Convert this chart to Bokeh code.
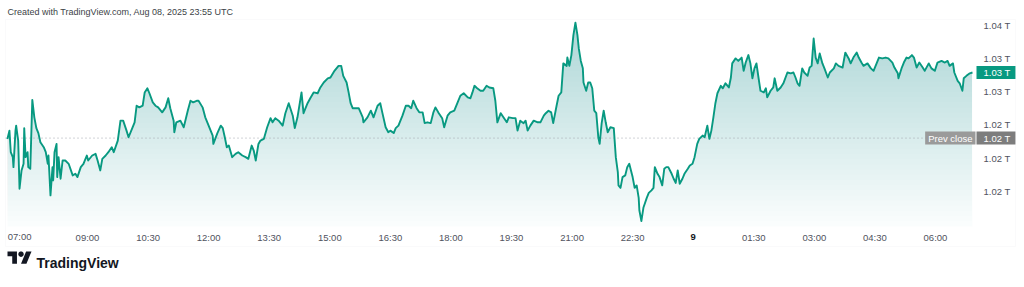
import numpy as np
from bokeh.plotting import figure
from bokeh.models import (Range1d, FixedTicker, PrintfTickFormatter, Label,
                          PolyAnnotation, BoxAnnotation, LinearAxis)
from bokeh.embed import file_html
from bokeh.resources import INLINE

# ---------------- data ----------------
# minutes elapsed since 07:00 (Aug 8) and market value in trillions
minutes = [1, 4, 6, 9, 10, 13, 14, 17, 19, 22, 25, 26, 28, 31, 32, 35, 38, 41, 44, 47,
           50, 55, 58, 61, 62, 65, 68, 69, 71, 74, 75, 77, 80, 83, 87, 92, 98, 102, 105, 110,
           114, 119, 121, 127, 132, 135, 139, 142, 147, 151, 156, 159, 165, 169, 173, 178, 181, 187, 190, 193,
           197, 202, 205, 209, 212, 217, 221, 225, 231, 236, 240, 243, 248, 249, 252, 258, 263, 269, 273, 277,
           283, 285, 291, 295, 300, 306, 307, 313, 318, 321, 324, 327, 330, 335, 340, 344, 350, 355, 359, 364,
           367, 370, 374, 377, 382, 387, 392, 395, 399, 404, 410, 414, 419, 425, 428, 432, 438, 441, 447, 451,
           456, 462, 466, 471, 477, 481, 487, 493, 497, 500, 505, 508, 511, 514, 517, 523, 529, 530, 536, 541,
           545, 551, 555, 558, 563, 567, 570, 575, 578, 582, 588, 593, 597, 601, 604, 609, 613, 618, 621, 625,
           630, 634, 637, 642, 647, 650, 655, 659, 665, 670, 674, 679, 685, 689, 692, 695, 699, 704, 708, 713,
           717, 723, 726, 729, 734, 738, 743, 746, 752, 756, 759, 763, 768, 771, 774, 778, 783, 789, 793, 798,
           801, 805, 809, 812, 817, 820, 824, 827, 832, 833, 836, 839, 842, 845, 848, 850, 853, 856, 857, 861,
           864, 867, 870, 873, 876, 879, 881, 884, 887, 890, 893, 897, 902, 905, 908, 909, 912, 915, 919, 922,
           925, 930, 933, 936, 939, 940, 943, 946, 951, 954, 958, 961, 963, 967, 970, 974, 977, 980, 983, 988,
           991, 994, 997, 1000, 1004, 1007, 1012, 1015, 1019, 1022, 1026, 1029, 1034, 1037, 1041, 1044, 1047, 1050, 1053, 1056,
           1061, 1064, 1068, 1073, 1076, 1078, 1083, 1087, 1092, 1095, 1098, 1102, 1105, 1108, 1111, 1114, 1117, 1120, 1125, 1128,
           1130, 1135, 1139, 1141, 1145, 1150, 1154, 1160, 1165, 1169, 1172, 1175, 1178, 1182, 1185, 1190, 1193, 1196, 1199, 1202,
           1205, 1208, 1212, 1215, 1220, 1223, 1229, 1232, 1236, 1242, 1246, 1251, 1254, 1258, 1263, 1266, 1270, 1273, 1279, 1284,
           1288, 1293, 1296, 1301, 1306, 1310, 1316, 1319, 1324, 1325, 1330, 1333, 1337, 1340, 1345, 1348, 1352, 1356, 1361, 1364,
           1370, 1374, 1379, 1383, 1389, 1394, 1398, 1401, 1406, 1408, 1413, 1416, 1420, 1422, 1426, 1431, 1435]

values = [1.0223, 1.0233, 1.0207, 1.0201, 1.0189, 1.0233, 1.0239, 1.0221, 1.0163, 1.0185, 1.0193, 1.0236, 1.0201, 1.0207, 1.0189, 1.0187, 1.0270, 1.0249, 1.0236, 1.0230,
          1.0219, 1.0213, 1.0207, 1.0193, 1.0203, 1.0155, 1.0189, 1.0173, 1.0207, 1.0217, 1.0177, 1.0201, 1.0175, 1.0197, 1.0197, 1.0193, 1.0179, 1.0181, 1.0177, 1.0189,
          1.0193, 1.0203, 1.0197, 1.0203, 1.0205, 1.0197, 1.0185, 1.0199, 1.0203, 1.0207, 1.0213, 1.0207, 1.0221, 1.0245, 1.0245, 1.0233, 1.0225, 1.0237, 1.0243, 1.0263,
          1.0261, 1.0263, 1.0279, 1.0284, 1.0278, 1.0267, 1.0263, 1.0261, 1.0255, 1.0261, 1.0272, 1.0260, 1.0245, 1.0231, 1.0243, 1.0245, 1.0237, 1.0257, 1.0269, 1.0267,
          1.0269, 1.0269, 1.0261, 1.0249, 1.0239, 1.0227, 1.0217, 1.0230, 1.0239, 1.0236, 1.0225, 1.0213, 1.0215, 1.0201, 1.0205, 1.0207, 1.0203, 1.0201, 1.0199, 1.0215,
          1.0209, 1.0197, 1.0217, 1.0221, 1.0223, 1.0237, 1.0248, 1.0243, 1.0248, 1.0245, 1.0239, 1.0254, 1.0266, 1.0251, 1.0236, 1.0249, 1.0279, 1.0254, 1.0266, 1.0272,
          1.0279, 1.0278, 1.0285, 1.0291, 1.0296, 1.0297, 1.0305, 1.0311, 1.0311, 1.0299, 1.0291, 1.0279, 1.0266, 1.0260, 1.0260, 1.0260, 1.0249, 1.0243, 1.0249, 1.0257,
          1.0249, 1.0263, 1.0266, 1.0255, 1.0237, 1.0231, 1.0233, 1.0230, 1.0236, 1.0239, 1.0251, 1.0263, 1.0263, 1.0260, 1.0269, 1.0260, 1.0255, 1.0255, 1.0242, 1.0243,
          1.0242, 1.0255, 1.0261, 1.0254, 1.0248, 1.0237, 1.0251, 1.0255, 1.0257, 1.0267, 1.0275, 1.0278, 1.0273, 1.0272, 1.0279, 1.0287, 1.0284, 1.0281, 1.0281, 1.0287,
          1.0285, 1.0284, 1.0269, 1.0243, 1.0254, 1.0249, 1.0243, 1.0249, 1.0248, 1.0248, 1.0233, 1.0245, 1.0242, 1.0245, 1.0233, 1.0239, 1.0245, 1.0243, 1.0243, 1.0251,
          1.0254, 1.0257, 1.0255, 1.0242, 1.0263, 1.0275, 1.0279, 1.0314, 1.0311, 1.0321, 1.0311, 1.0324, 1.0348, 1.0363, 1.0348, 1.0332, 1.0317, 1.0308, 1.0291, 1.0281,
          1.0291, 1.0291, 1.0284, 1.0257, 1.0254, 1.0225, 1.0217, 1.0242, 1.0257, 1.0243, 1.0231, 1.0237, 1.0236, 1.0201, 1.0183, 1.0167, 1.0164, 1.0177, 1.0179, 1.0189,
          1.0193, 1.0177, 1.0164, 1.0167, 1.0152, 1.0137, 1.0124, 1.0140, 1.0152, 1.0158, 1.0161, 1.0164, 1.0189, 1.0181, 1.0177, 1.0167, 1.0187, 1.0189, 1.0189, 1.0181,
          1.0175, 1.0170, 1.0185, 1.0169, 1.0175, 1.0181, 1.0187, 1.0191, 1.0193, 1.0201, 1.0217, 1.0223, 1.0227, 1.0225, 1.0239, 1.0223, 1.0233, 1.0249, 1.0266, 1.0278,
          1.0287, 1.0284, 1.0290, 1.0285, 1.0297, 1.0314, 1.0320, 1.0317, 1.0321, 1.0305, 1.0315, 1.0324, 1.0314, 1.0296, 1.0308, 1.0314, 1.0297, 1.0281, 1.0279, 1.0284,
          1.0273, 1.0281, 1.0285, 1.0296, 1.0281, 1.0285, 1.0290, 1.0303, 1.0302, 1.0303, 1.0297, 1.0290, 1.0287, 1.0308, 1.0303, 1.0299, 1.0309, 1.0311, 1.0344, 1.0321,
          1.0314, 1.0326, 1.0314, 1.0308, 1.0297, 1.0303, 1.0308, 1.0314, 1.0311, 1.0309, 1.0327, 1.0320, 1.0314, 1.0321, 1.0327, 1.0321, 1.0315, 1.0311, 1.0314, 1.0308,
          1.0305, 1.0315, 1.0321, 1.0320, 1.0321, 1.0320, 1.0315, 1.0309, 1.0302, 1.0296, 1.0309, 1.0315, 1.0321, 1.0320, 1.0324, 1.0321, 1.0309, 1.0315, 1.0309, 1.0305,
          1.0314, 1.0308, 1.0305, 1.0315, 1.0317, 1.0315, 1.0317, 1.0311, 1.0314, 1.0303, 1.0293, 1.0290, 1.0281, 1.0296, 1.0299, 1.0302, 1.0303]

prev_close = 1.0224
last_price_text = "1.03 T"
prev_close_text = "1.02 T"

y_ticks = [1.016, 1.020, 1.024, 1.028, 1.032, 1.036]
x_tick_minutes = [0, 120, 210, 300, 390, 480, 570, 660, 750, 840, 930, 1020, 1110, 1200, 1290, 1380]
x_tick_labels = ["07:00", "09:00", "10:30", "12:00", "13:30", "15:00", "16:30", "18:00",
                 "19:30", "21:00", "22:30", "9", "01:30", "03:00", "04:30", "06:00"]

header_text = "Created with TradingView.com, Aug 08, 2025 23:55 UTC"
brand_text = "TradingView"

# ---------------- figure ----------------
GREEN = "#089981"
FONT = "Liberation Sans"
AXIS_TXT = "#50535e"

# the plotting frame covers the whole canvas; the price pane is a sub-box of it
x_view = (-9.27, 1512.28)          # minutes shown across the 1024 px canvas
y_view = (1.004398, 1.038976)      # values shown across the 287 px canvas
pane_x = (-1.84, 1439.5)           # price pane (left/right edges)
pane_y = (1.011747, 1.036687)      # price pane (bottom/top edges)

p = figure(width=1024, height=287, output_backend="svg", toolbar_location=None,
           x_range=Range1d(*x_view), y_range=Range1d(*y_view),
           x_axis_location=None, y_axis_location=None,
           min_border_left=0, min_border_right=0, min_border_top=0, min_border_bottom=0)
p.outline_line_color = None
p.background_fill_color = "white"
p.border_fill_color = "white"
p.xgrid.visible = False
p.ygrid.visible = False

# gradient fill under the line, built from stacked translucent layers
vals = np.array(values)
n_layers = 40
edges = np.linspace(pane_y[0], pane_y[1], n_layers + 1)
a_bot, a_top = 0.015, 0.30
prev_A = 0.0
for i in range(n_layers):
    t = edges[i]
    if t >= vals.max():
        break
    mid = 0.5 * (edges[i] + edges[i + 1])
    A = a_bot + (a_top - a_bot) * (mid - pane_y[0]) / (pane_y[1] - pane_y[0])
    a = 1 - (1 - A) / (1 - prev_A)
    prev_A = A
    p.varea(x=minutes, y1=np.full(len(vals), t), y2=np.maximum(vals, t),
            fill_color=GREEN, fill_alpha=float(a))

# previous close dotted line across the pane
p.segment(x0=[pane_x[0]], y0=[prev_close], x1=[pane_x[1]], y1=[prev_close],
          line_color="#a3a6af", line_width=1, line_dash="1 3")

p.line(minutes, values, line_color=GREEN, line_width=1.9, line_join="round")

# axes fixed to the pane edges
yax = LinearAxis(fixed_location=pane_x[1])
yax.ticker = FixedTicker(ticks=y_ticks)
yax.formatter = PrintfTickFormatter(format="%.2f T")
yax.axis_line_color = None
yax.major_tick_line_color = None
yax.minor_tick_line_color = None
yax.major_tick_out = 0
yax.major_tick_in = 0
yax.major_label_standoff = 8
yax.major_label_text_font_size = "9.5px"
yax.major_label_text_color = AXIS_TXT
yax.major_label_text_font = FONT
p.add_layout(yax, "right")

special = {"07:00", "9"}
xax = LinearAxis(fixed_location=pane_y[0])
xax.ticker = FixedTicker(ticks=[m for m, l in zip(x_tick_minutes, x_tick_labels) if l not in special])
xax.major_label_overrides = {m: l for m, l in zip(x_tick_minutes, x_tick_labels) if l not in special}
xax.axis_line_color = None
xax.major_tick_line_color = None
xax.minor_tick_line_color = None
xax.major_tick_out = 0
xax.major_tick_in = 0
xax.major_label_standoff = 5
xax.major_label_text_font_size = "9.5px"
xax.major_label_text_color = AXIS_TXT
xax.major_label_text_font = FONT
p.add_layout(xax, "below")

for m, l in zip(x_tick_minutes, x_tick_labels):
    if l == "07:00":
        p.add_layout(Label(x=m, y=236, x_units="data", y_units="canvas", text=l,
                           text_align="left", text_baseline="middle", x_offset=1,
                           text_font=FONT, text_font_size="9.5px", text_color=AXIS_TXT))
    elif l == "9":
        p.add_layout(Label(x=m, y=236, x_units="data", y_units="canvas", text=l,
                           text_align="center", text_baseline="middle",
                           text_font=FONT, text_font_size="9.5px", text_font_style="bold",
                           text_color="#131722"))

# outer light frame
p.add_layout(BoxAnnotation(left=5, right=1015, top=19, bottom=246,
                           left_units="canvas", right_units="canvas",
                           top_units="canvas", bottom_units="canvas",
                           fill_alpha=0, line_color="#eef0f3", line_width=1))

# price tags on the scale
p.add_layout(Label(x=976, y=values[-1], x_units="canvas", y_units="data", text=last_price_text,
                   text_align="left", text_baseline="middle", text_font=FONT,
                   text_font_size="9.5px", text_color="white",
                   background_fill_color=GREEN,
                   padding=dict(left=7, right=5, top=1, bottom=1)))
p.add_layout(Label(x=975, y=prev_close, x_units="canvas", y_units="data", text="Prev close",
                   text_align="right", text_baseline="middle", text_font=FONT,
                   text_font_size="9.5px", text_color="white",
                   background_fill_color="#9a9a9a",
                   padding=dict(left=3, right=3, top=1, bottom=1)))
p.add_layout(Label(x=976, y=prev_close, x_units="canvas", y_units="data", text=prev_close_text,
                   text_align="left", text_baseline="middle", text_font=FONT,
                   text_font_size="9.5px", text_color="white",
                   background_fill_color="#7d7d7d",
                   padding=dict(left=7, right=5, top=1, bottom=1)))

# header
p.add_layout(Label(x=7, y=11, x_units="canvas", y_units="canvas", text=header_text,
                   text_align="left", text_baseline="middle", text_font=FONT,
                   text_font_size="9px", text_color="#3c3f47"))

# brand logo (icon + wordmark)
s = 24 / 35.5
def lx(v):
    return [7 + q * s for q in v]
def ly(v):
    return [251 + (q - 4) * s for q in v]
p.add_layout(PolyAnnotation(xs=lx([0, 14, 14, 7, 7, 0]), ys=ly([4, 4, 22, 22, 11, 11]),
                            xs_units="canvas", ys_units="canvas",
                            fill_color="#131722", fill_alpha=1, line_color=None))
p.add_layout(PolyAnnotation(xs=lx([28, 20, 27.5, 35.5]), ys=ly([22, 22, 4, 4]),
                            xs_units="canvas", ys_units="canvas",
                            fill_color="#131722", fill_alpha=1, line_color=None))
ang = np.linspace(0, 2 * np.pi, 24, endpoint=False)
p.add_layout(PolyAnnotation(xs=lx(list(20 + 4 * np.cos(ang))), ys=ly(list(8 + 4 * np.sin(ang))),
                            xs_units="canvas", ys_units="canvas",
                            fill_color="#131722", fill_alpha=1, line_color=None))
p.add_layout(Label(x=36, y=262, x_units="canvas", y_units="canvas", text=brand_text,
                   text_align="left", text_baseline="alphabetic", text_font=FONT,
                   text_font_size="14px", text_font_style="bold", text_color="#131722"))

open("out.html", "w").write(file_html(p, INLINE))
